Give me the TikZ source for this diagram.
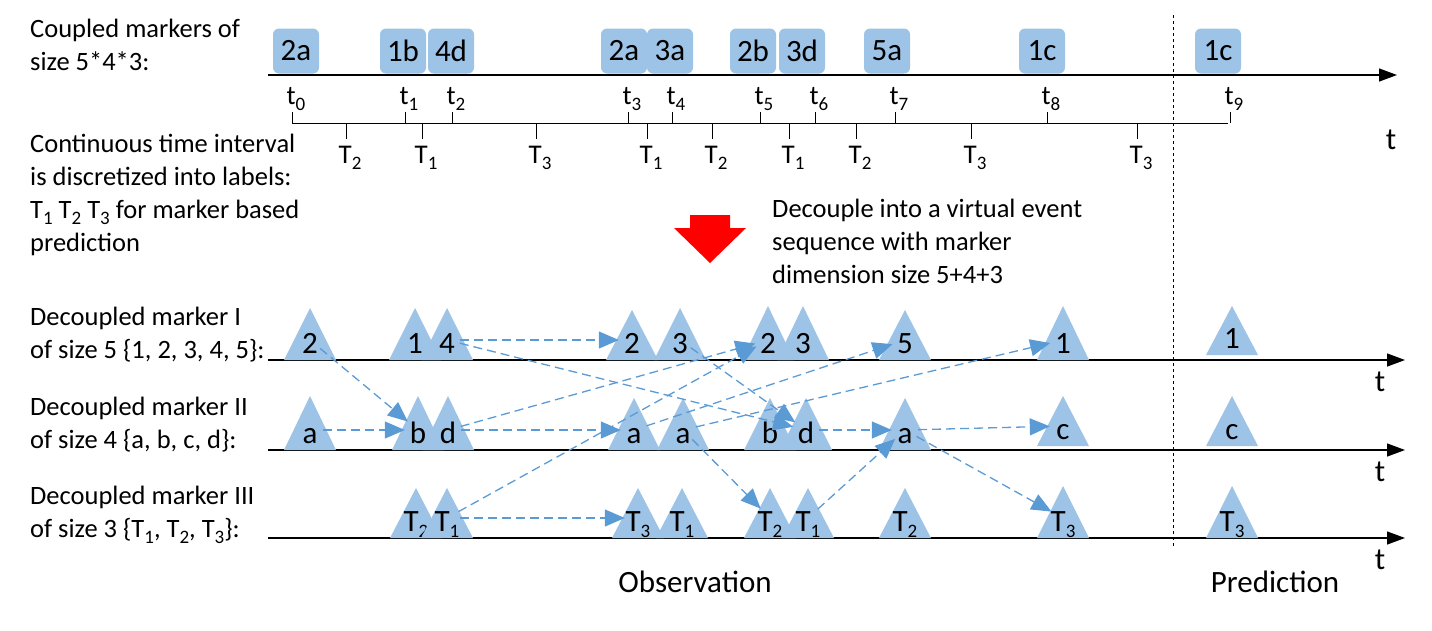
\documentclass[tikz,border=0pt]{standalone}
\usepackage{fontspec}
\setmainfont{Carlito}
\usetikzlibrary{arrows.meta}
\definecolor{tri}{RGB}{157,195,230}
\definecolor{arr}{RGB}{91,155,213}
\newcommand\lo[1]{\raisebox{-.45ex}{\fontsize{19}{19}\selectfont#1}}
\newcommand\tri[5]{% name, x, top, base, label
  \fill[tri] (#2,#3) -- (#2+26,#4) -- (#2-26,#4) -- cycle;
  \node[anc] (#1) at (#2,#4-20) {};
  \node[anchor=base,font=\fontsize{31}{31}\selectfont] at (#2,#4-7) {#5};}
\begin{document}
\begin{tikzpicture}[x=1pt,y=-1pt,
  txt/.style={anchor=west,align=left,font=\fontsize{26.5}{33}\selectfont,inner sep=0},
  anc/.style={circle,minimum size=26pt,inner sep=0},
  mbox/.style={fill=tri,rounded corners=6pt,minimum width=46pt,minimum height=45pt,inner sep=0,font=\fontsize{31}{31}\selectfont},
  axis/.style={line width=1.3pt,-{Triangle[length=18pt,width=13pt]}},
  dep/.style={arr,dashed,dash pattern=on 9pt off 5pt,line width=1.3pt,-{Triangle[length=20pt,width=17pt]}},
  tl/.style={font=\fontsize{27}{27}\selectfont,inner sep=0}]
\useasboundingbox (0,0) rectangle (1432,630);
% left texts
\node[txt] at (30,45) {Coupled markers of\\size 5*4*3:};
\node[txt] at (30,195) {Continuous time interval\\is discretized into labels:\\T\lo{1} T\lo{2} T\lo{3} for marker based\\prediction};
\node[txt] at (30,335) {Decoupled marker I\\of size 5 \{1, 2, 3, 4, 5\}:};
\node[txt] at (30,425) {Decoupled marker II\\of size 4 \{a, b, c, d\}:};
\node[txt] at (30,515) {Decoupled marker III\\of size 3 \{T\lo{1}, T\lo{2}, T\lo{3}\}:};
\node[txt] at (772,241) {Decouple into a virtual event\\sequence with marker\\dimension size 5+4+3};
% top axis
\coordinate (ta0) at (268,75); \coordinate (ta1) at (1397,75);
\draw[axis] (ta0) -- (ta1);
\foreach \x/\l in {296/2a,403/1b,451/4d,624/2a,670/3a,753/2b,802/3d,887/5a,1042/1c,1218/1c}
  \node[mbox] at (\x,51) {\l};
\foreach \x/\i in {292/0,405/1,452/2,628/3,672/4,760/5,815/6,895/7,1047/8,1230/9}{
  \node[tl] at (\x+4,99) {t\lo{\i}};
  \draw[line width=0.8pt] (\x,112) -- (\x,123);}
\draw[line width=0.8pt] (292,123) -- (1228,123);
\foreach \x/\i in {346/2,422/1,536/3,647/1,712/2,789/1,856/2,971/3,1137/3}{
  \draw[line width=0.8pt] (\x,123) -- (\x,139);
  \node[tl] at (\x+4,158) {T\lo{\i}};}
\node[font=\fontsize{31}{31}\selectfont] at (1391,140) {t};
% dashed separator
\draw[dashed,line width=0.8pt] (1173,15) -- (1173,547);
% red arrow
\fill[red] (690,215) -- (730,215) -- (730,228) -- (746,228) -- (710,263) -- (674,228) -- (690,228) -- cycle;
% row axes
\foreach \y in {360,450,538}{
  \draw[axis] (268,\y) -- (1405,\y);
  \node[font=\fontsize{31}{31}\selectfont] at (1380,\y+22) {t};}
% row 1
\tri{p0}{310}{308}{360}{2}
\tri{p1}{415}{308}{360}{1}
\tri{p2}{447}{308}{360}{4}
\tri{p3}{632}{310}{360}{2}
\tri{p4}{680}{308}{360}{3}
\tri{p5}{768}{306}{360}{2}
\tri{p6}{803}{306}{360}{3}
\tri{p7}{905}{310}{360}{5}
\tri{p8}{1063}{306}{360}{1}
\tri{p9}{1232}{306}{355}{1}
% row 2
\tri{q0}{310}{396}{450}{a}
\tri{q1}{418}{396}{450}{b}
\tri{q2}{448}{396}{450}{d}
\tri{q3}{634}{398}{450}{a}
\tri{q4}{683}{398}{450}{a}
\tri{q5}{770}{398}{450}{b}
\tri{q6}{806}{398}{450}{d}
\tri{q7}{905}{398}{450}{a}
\tri{q8}{1063}{396}{446}{c}
\tri{q9}{1232}{396}{446}{c}
% row 3
\tri{r1}{416}{488}{538}{T\lo{2}}
\tri{r2}{447}{488}{538}{T\lo{1}}
\tri{r3}{638}{488}{538}{T\lo{3}}
\tri{r4}{682}{488}{538}{T\lo{1}}
\tri{r5}{770}{488}{538}{T\lo{2}}
\tri{r6}{808}{488}{538}{T\lo{1}}
\tri{r7}{905}{488}{538}{T\lo{2}}
\tri{r8}{1063}{486}{538}{T\lo{3}}
\tri{r9}{1232}{486}{538}{T\lo{3}}
% dependencies
\draw[dep] (p0) -- (q1);
\draw[dep] (q0) -- (q1);
\draw[dep] (p2) -- (p3);
\draw[dep] (p2) -- (q6);
\draw[dep] (p4) -- (q6);
\draw[dep] (q2) -- (q3);
\draw[dep] (q2) -- (p5);
\draw[dep] (r2) -- (r3);
\draw[dep] (r2) -- (p5);
\draw[dep] (q3) -- (p7);
\draw[dep] (q4) -- (p8);
\draw[dep] (q4) -- (r5);
\draw[dep] (q6) -- (q7);
\draw[dep] (r6) -- (q7);
\draw[dep] (q7) -- (q8);
\draw[dep] (q7) -- (r8);
% bottom labels
\node[font=\fontsize{31}{31}\selectfont] at (695,582) {Observation};
\node[font=\fontsize{31}{31}\selectfont] at (1275,582) {Prediction};
\end{tikzpicture}
\end{document}
